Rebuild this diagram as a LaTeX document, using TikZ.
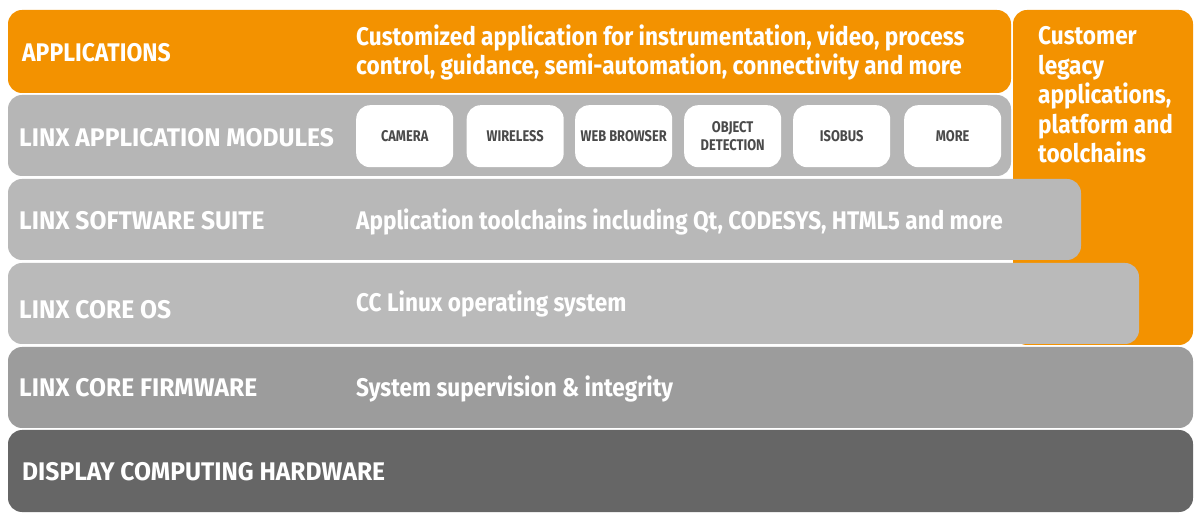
\documentclass[tikz,border=0pt]{standalone}
\usepackage{fontspec}
\newfontfamily\dinfont[FakeStretch=0.9,BoldFeatures={FakeStretch=0.9}]{Fira Sans}
\newfontfamily\dinwide[FakeStretch=0.965,BoldFeatures={FakeStretch=0.965}]{Fira Sans}
\newfontfamily\dinbody[FakeStretch=0.886,BoldFeatures={FakeStretch=0.886}]{Fira Sans}
\newfontfamily\dinmod[FakeStretch=0.83,BoldFeatures={FakeStretch=0.83}]{Fira Sans}
\definecolor{ccorange}{HTML}{F39200}
\definecolor{gmod}{HTML}{B6B6B6}
\definecolor{gsuite}{HTML}{B8B8B8}
\definecolor{gos}{HTML}{BABABA}
\definecolor{gfw}{HTML}{9C9C9C}
\definecolor{ghw}{HTML}{666666}
\definecolor{modtext}{HTML}{4A4A4A}
\begin{document}
\begin{tikzpicture}[x=1pt,y=-1pt,
  layer/.style={rectangle, rounded corners=14pt, inner sep=0pt, outer sep=0pt, anchor=north west, draw=none},
  modbox/.style={rectangle, rounded corners=14pt, fill=white, inner sep=0pt, anchor=north west, minimum width=97pt, minimum height=62pt},
  modlabel/.style={text=modtext, font=\dinmod\bfseries\fontsize{15.5}{18}\selectfont, align=center, inner sep=0pt},
  head/.style={text=white, font=\dinwide\bfseries\fontsize{25.5}{29.5}\selectfont, anchor=base west, inner sep=0pt},
  headapp/.style={text=white, font=\dinfont\bfseries\fontsize{25.5}{29.5}\selectfont, anchor=base west, inner sep=0pt},
  body/.style={text=white, font=\dinbody\bfseries\fontsize{25.5}{29.5}\selectfont, anchor=base west, inner sep=0pt, align=left}]
\useasboundingbox (0,0) rectangle (1200,518);
\fill[white] (0,0) rectangle (1200,518);
% layers
\node[layer, fill=ccorange, minimum width=180pt, minimum height=335pt] (cust) at (1013,10) {};
\node[layer, fill=ccorange, minimum width=1003pt, minimum height=83pt] (apps) at (8,10) {};
\node[layer, fill=gmod, minimum width=1003pt, minimum height=81pt] (mods) at (8,95) {};
\node[layer, fill=gsuite, minimum width=1073pt, minimum height=81pt] (suite) at (8,179) {};
\node[layer, fill=gos, minimum width=1131pt, minimum height=81pt] (os) at (8,263) {};
\node[layer, fill=gfw, minimum width=1185pt, minimum height=81pt] (fw) at (8,347) {};
\node[layer, fill=ghw, minimum width=1185pt, minimum height=82pt] (hw) at (8,430) {};
% headings
\node[headapp] (tapps) at (22,61.7) {APPLICATIONS};
\node[head] (tmods) at (19,146.7) {LINX APPLICATION MODULES};
\node[head] (tsuite) at (19,229.5) {LINX SOFTWARE SUITE};
\node[head] (tos) at (19,318.3) {LINX CORE OS};
\node[head] (tfw) at (19,396.7) {LINX CORE FIRMWARE};
\node[head] (thw) at (22,480.7) {DISPLAY COMPUTING HARDWARE};
% descriptions
\node[body, font=\dinbody\bfseries\fontsize{25.5}{29}\selectfont] (dapps) at (356,75) {Customized application for instrumentation, video, process\\control, guidance, semi-automation, connectivity and more};
\node[body] (dsuite) at (356,229.3) {Application toolchains including Qt, CODESYS, HTML5 and more};
\node[body] (dos) at (356,311.7) {CC Linux operating system};
\node[body] (dfw) at (356,397) {System supervision \& integrity};
\node[body] (dcust) at (1038,163) {Customer\\legacy\\applications,\\platform and\\toolchains};
% modules
\node[modbox] (m1) at (356,105) {};
\node[modbox] (m2) at (466.5,105) {};
\node[modbox] (m3) at (575,105) {};
\node[modbox] (m4) at (684,105) {};
\node[modbox] (m5) at (793,105) {};
\node[modbox] (m6) at (904,105) {};
\node[modlabel] at (m1.center) {CAMERA};
\node[modlabel] at (m2.center) {WIRELESS};
\node[modlabel] at (m3.center) {WEB BROWSER};
\node[modlabel] at (m4.center) {OBJECT\\DETECTION};
\node[modlabel] at (m5.center) {ISOBUS};
\node[modlabel] at (m6.center) {MORE};
\end{tikzpicture}
\end{document}
